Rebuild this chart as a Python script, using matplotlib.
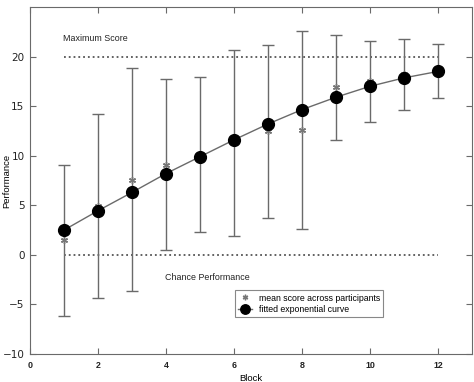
import numpy as np
from matplotlib import pyplot as plt

# Номера блоков
block = np.arange(1, 13)

# Средний балл по участникам и стандартное отклонение
mean_score = [1.45, 4.9, 7.6, 9.1, 10.1, 11.3, 12.45, 12.6, 16.9, 17.5, 18.2, 18.55]
sd = [7.65, 9.3, 11.2, 8.65, 7.8, 9.35, 8.75, 10.0, 5.3, 4.1, 3.6, 2.75]

# Подобранная экспоненциальная кривая
fitted = [2.5, 4.45, 6.3, 8.2, 9.9, 11.6, 13.2, 14.65, 15.9, 17.0, 17.85, 18.5]

max_score = 20
chance = 0

plt.rcParams['font.family'] = ['Liberation Sans', 'DejaVu Sans']

fig = plt.figure(figsize=(4.74, 3.82), dpi=100)
ax = fig.add_axes([0.0633, 0.0733, 0.9325, 0.9084])

gray = '#6a6a6a'

# Пунктирные линии максимума и случайного уровня
ax.plot([block[0], block[-1]], [max_score, max_score], ':', color='#555555', lw=1.3)
ax.plot([block[0], block[-1]], [chance, chance], ':', color='#555555', lw=1.3)

# Планки погрешностей
ax.errorbar(block, mean_score, yerr=sd, fmt='none', ecolor=gray,
            elinewidth=1.0, capsize=4, capthick=1.0)
# Звёздочки средних
ax.plot(block, mean_score, ls='none', marker=(6, 2, 0), color='#777777',
        markersize=5, markeredgewidth=1.0, label='mean score across participants')

# Кривая
ax.plot(block, fitted, '-o', color=gray, lw=1.0, markerfacecolor='black',
        markeredgecolor='black', markersize=8.5, label='fitted exponential curve')

ax.text(0.97, 21.6, 'Maximum Score', fontsize=6.4, color='#222222')
ax.text(3.97, -2.5, 'Chance Performance', fontsize=6.4, color='#222222')

ax.set_xlim(0, 13)
ax.set_ylim(-10, 25)
ax.set_xticks([0, 2, 4, 6, 8, 10, 12])
ax.set_yticks([-10, -5, 0, 5, 10, 15, 20])
ax.tick_params(direction='in', top=True, right=True, length=4, color=gray,
               labelcolor='#222222')
ax.tick_params(axis='x', labelsize=6.4, pad=5)
ax.tick_params(axis='y', labelsize=7.5, pad=4)
for lab in ax.get_xticklabels():
    lab.set_fontweight('bold')
for lab in ax.get_yticklabels():
    lab.set_family('DejaVu Sans')
for s in ax.spines.values():
    s.set_color(gray)

ax.set_xlabel('Block', fontsize=6.8, labelpad=3)
ax.set_ylabel('Performance', fontsize=6.8)
ax.yaxis.set_label_coords(-0.043, 0.5)

leg = ax.legend(loc='upper left', bbox_to_anchor=(0.463, 0.183), fontsize=6.3,
                frameon=True, fancybox=False, borderpad=0.35, labelspacing=0.25,
                handlelength=1.6, handletextpad=0.8, borderaxespad=0,
                markerscale=0.8)
leg.get_frame().set_edgecolor(gray)
leg.get_frame().set_linewidth(0.8)

plt.savefig('out.png', dpi=100)
